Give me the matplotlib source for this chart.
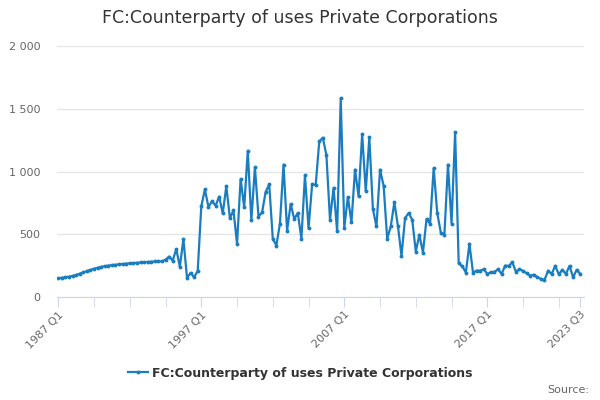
import matplotlib
matplotlib.use("Agg")
import matplotlib.pyplot as plt
from matplotlib.ticker import FuncFormatter, FixedLocator

# ---- data ----
start_year = 1987
values = [150, 153, 157, 162, 168, 176, 186, 196, 206, 216,
          225, 233, 240, 246, 250, 254, 257, 260, 263, 266,
          268, 270, 273, 275, 277, 279, 281, 283, 285, 283,
          298, 322, 290, 382, 241, 461, 153, 192, 157, 209,
          722, 857, 718, 762, 728, 800, 666, 882, 629, 690,
          424, 940, 714, 1165, 610, 1034, 640, 674, 837, 898,
          464, 410, 584, 1055, 528, 741, 621, 669, 464, 970,
          546, 898, 893, 1240, 1269, 1130, 616, 870, 522, 1583,
          552, 797, 594, 1015, 802, 1300, 842, 1271, 701, 562,
          1015, 887, 464, 562, 754, 567, 328, 629, 669, 616,
          362, 496, 354, 621, 584, 1026, 669, 513, 497, 1055,
          584, 1313, 269, 245, 195, 424, 194, 210, 210, 221,
          184, 197, 200, 221, 184, 250, 248, 277, 202, 221,
          208, 189, 170, 178, 157, 144, 136, 208, 184, 248,
          181, 216, 184, 248, 157, 216, 184]
categories = [f"{start_year + k // 4} Q{k % 4 + 1}" for k in range(len(values))]
label_categories = ["1987 Q1", "1997 Q1", "2007 Q1", "2017 Q1", "2023 Q3"]
series_name = "FC:Counterparty of uses Private Corporations"
yticks = [0, 500, 1000, 1500, 2000]

# ---- figure ----
fig = plt.figure(figsize=(6, 4), dpi=100)
ax = fig.add_axes([57 / 600, 1 - 297 / 400, (584 - 57) / 600, (297 - 46) / 400])

xs = list(range(len(values)))
line_color = "#1a7dc0"
ax.plot(xs, values, color=line_color, linewidth=1.6, marker="o",
        markersize=2.8, markeredgewidth=0, label=series_name)

ax.set_ylim(0, 2000)
ax.set_xlim(-0.36, 147.05)
ax.yaxis.set_major_locator(FixedLocator(yticks))
ax.yaxis.set_major_formatter(FuncFormatter(lambda v, p: f"{int(v):,}".replace(",", " ")))
ax.grid(axis="y", color="#e6e6e6", linewidth=1)
ax.set_axisbelow(True)

label_pos = [categories.index(c) for c in label_categories]
ax.set_xticks(label_pos)
ax.set_xticklabels(label_categories, rotation=45, ha="right", rotation_mode="anchor")
minor = [k for k in range(0, len(values), 10) if k not in label_pos]
ax.set_xticks(minor, minor=True)

for s in ["left", "top", "right"]:
    ax.spines[s].set_visible(False)
ax.spines["bottom"].set_color("#ccd6eb")
ax.tick_params(axis="x", which="both", length=7, color="#ccd6eb", labelsize=8,
               labelcolor="#666666", pad=2)
ax.tick_params(axis="y", length=0, labelsize=8, labelcolor="#666666", pad=12)

fig.text(0.5, 1 - 18 / 400, series_name, ha="center", va="center",
         fontsize=12.5, color="#333333")

leg = fig.legend(loc="center", bbox_to_anchor=(0.5, 1 - 373 / 400), frameon=False,
                 handlelength=1.6, handletextpad=0.3,
                 prop={"weight": "bold", "size": 9})
for t in leg.get_texts():
    t.set_color("#333333")

fig.text(0.982, 1 - 390 / 400, "Source:", ha="right", va="center",
         fontsize=8, color="#666666")

fig.savefig("out.png", dpi=100)
